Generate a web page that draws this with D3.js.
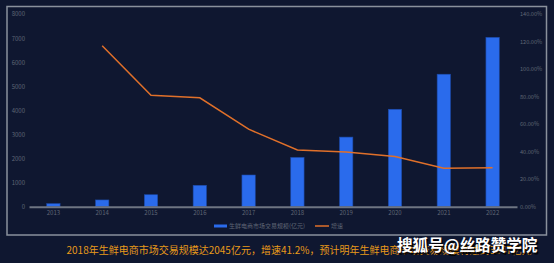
<!DOCTYPE html>
<html><head><meta charset="utf-8">
<script src="https://cdn.jsdelivr.net/npm/d3@7"></script>
<style>
html,body{margin:0;padding:0;background:#0f1730;}
svg{display:block;}
text{font-family:"Noto Sans CJK SC","Noto Sans",sans-serif;}
</style></head>
<body>
<svg id="c" width="554" height="263"></svg>
<script>
const years = ["2013","2014","2015","2016","2017","2018","2019","2020","2021","2022"];
const scale = [126, 280, 497, 888, 1316, 2045, 2890, 4045, 5500, 7030];
const growth = [null, 117.0, 81.0, 79.1, 56.3, 41.2, 39.8, 36.4, 27.9, 28.3];
const leftTicks = [0,1000,2000,3000,4000,5000,6000,7000,8000];
const rightTicks = [0,20,40,60,80,100,120,140];
const legendLabels = ["生鲜电商市场交易规模(亿元)", "增速"];
const caption = "2018年生鲜电商市场交易规模达2045亿元，增速41.2%，预计明年生鲜电商市场交易规模将达到3347亿元";
const watermark = "搜狐号@丝路赞学院";

const svg = d3.select("#c");
svg.append("rect").attr("width",554).attr("height",263).attr("fill","#0f1730");
// frame
svg.append("rect").attr("x",7).attr("y",6.5).attr("width",539.5).attr("height",228.5)
  .attr("fill","none").attr("stroke","#8a919c").attr("stroke-width",1.5);

const x = d3.scaleBand().domain(years).range([29,517]).paddingInner(0.727).paddingOuter(0.3635);
const yL = d3.scaleLinear().domain([0,8000]).range([206.7,14]);
const yR = d3.scaleLinear().domain([0,140]).range([206.7,14]);

// left axis
const axL = svg.append("g").attr("transform","translate(25,0)")
  .call(d3.axisLeft(yL).tickValues(leftTicks).tickSize(0).tickPadding(0).tickFormat(d3.format("d")));
axL.select(".domain").remove();
axL.selectAll("text").attr("fill","#5f6675").attr("font-size",6);

// right axis
const axR = svg.append("g").attr("transform","translate(520,0)")
  .call(d3.axisRight(yR).tickValues(rightTicks).tickSize(0).tickPadding(0).tickFormat(d=>d.toFixed(2)+"%"));
axR.select(".domain").remove();
axR.selectAll("text").attr("fill","#5f6675").attr("font-size",5.6);

// bars
svg.append("g").selectAll("rect").data(years).join("rect")
  .attr("x",d=>x(d)).attr("width",x.bandwidth())
  .attr("y",(d,i)=>yL(scale[i])).attr("height",(d,i)=>yL(0)-yL(scale[i]))
  .attr("fill","#2a6bec").attr("stroke","#1d4aa8").attr("stroke-width",0.6);

// bottom axis
const axB = svg.append("g").attr("transform","translate(0,206.7)")
  .call(d3.axisBottom(x).tickSize(0).tickPadding(4));
axB.select(".domain").attr("stroke","#6e7582").attr("stroke-width",2);
axB.selectAll("text").attr("fill","#5f6675").attr("font-size",6);

// line
const pts = years.map((d,i)=>({x:x(d)+x.bandwidth()/2, v:growth[i]})).filter(p=>p.v!==null);
svg.append("path").datum(pts)
  .attr("d", d3.line().x(p=>p.x).y(p=>yR(p.v)))
  .attr("fill","none").attr("stroke","#e0702a").attr("stroke-width",1.5);

// legend
const lg = svg.append("g");
lg.append("rect").attr("x",214).attr("y",224.5).attr("width",13).attr("height",3).attr("fill","#2a6bec");
lg.append("text").attr("x",229).attr("y",228).attr("font-size",6).attr("fill","#5f6675").text(legendLabels[0]);
lg.append("line").attr("x1",315).attr("x2",329).attr("y1",226).attr("y2",226).attr("stroke","#e0702a").attr("stroke-width",1.5);
lg.append("text").attr("x",331).attr("y",228).attr("font-size",6).attr("fill","#5f6675").text(legendLabels[1]);

// caption
svg.append("text").attr("x",66.5).attr("y",254).attr("font-size",10).attr("fill","#e89a1a").text(caption);

// watermark
svg.append("text").attr("x",398.5).attr("y",252.5).attr("font-size",15.6).attr("font-weight","bold")
  .attr("fill","#000").attr("opacity",0.85).text(watermark);
svg.append("text").attr("x",397).attr("y",251).attr("font-size",15.6).attr("font-weight","bold")
  .attr("fill","#ffffff").text(watermark);
</script>
</body></html>
